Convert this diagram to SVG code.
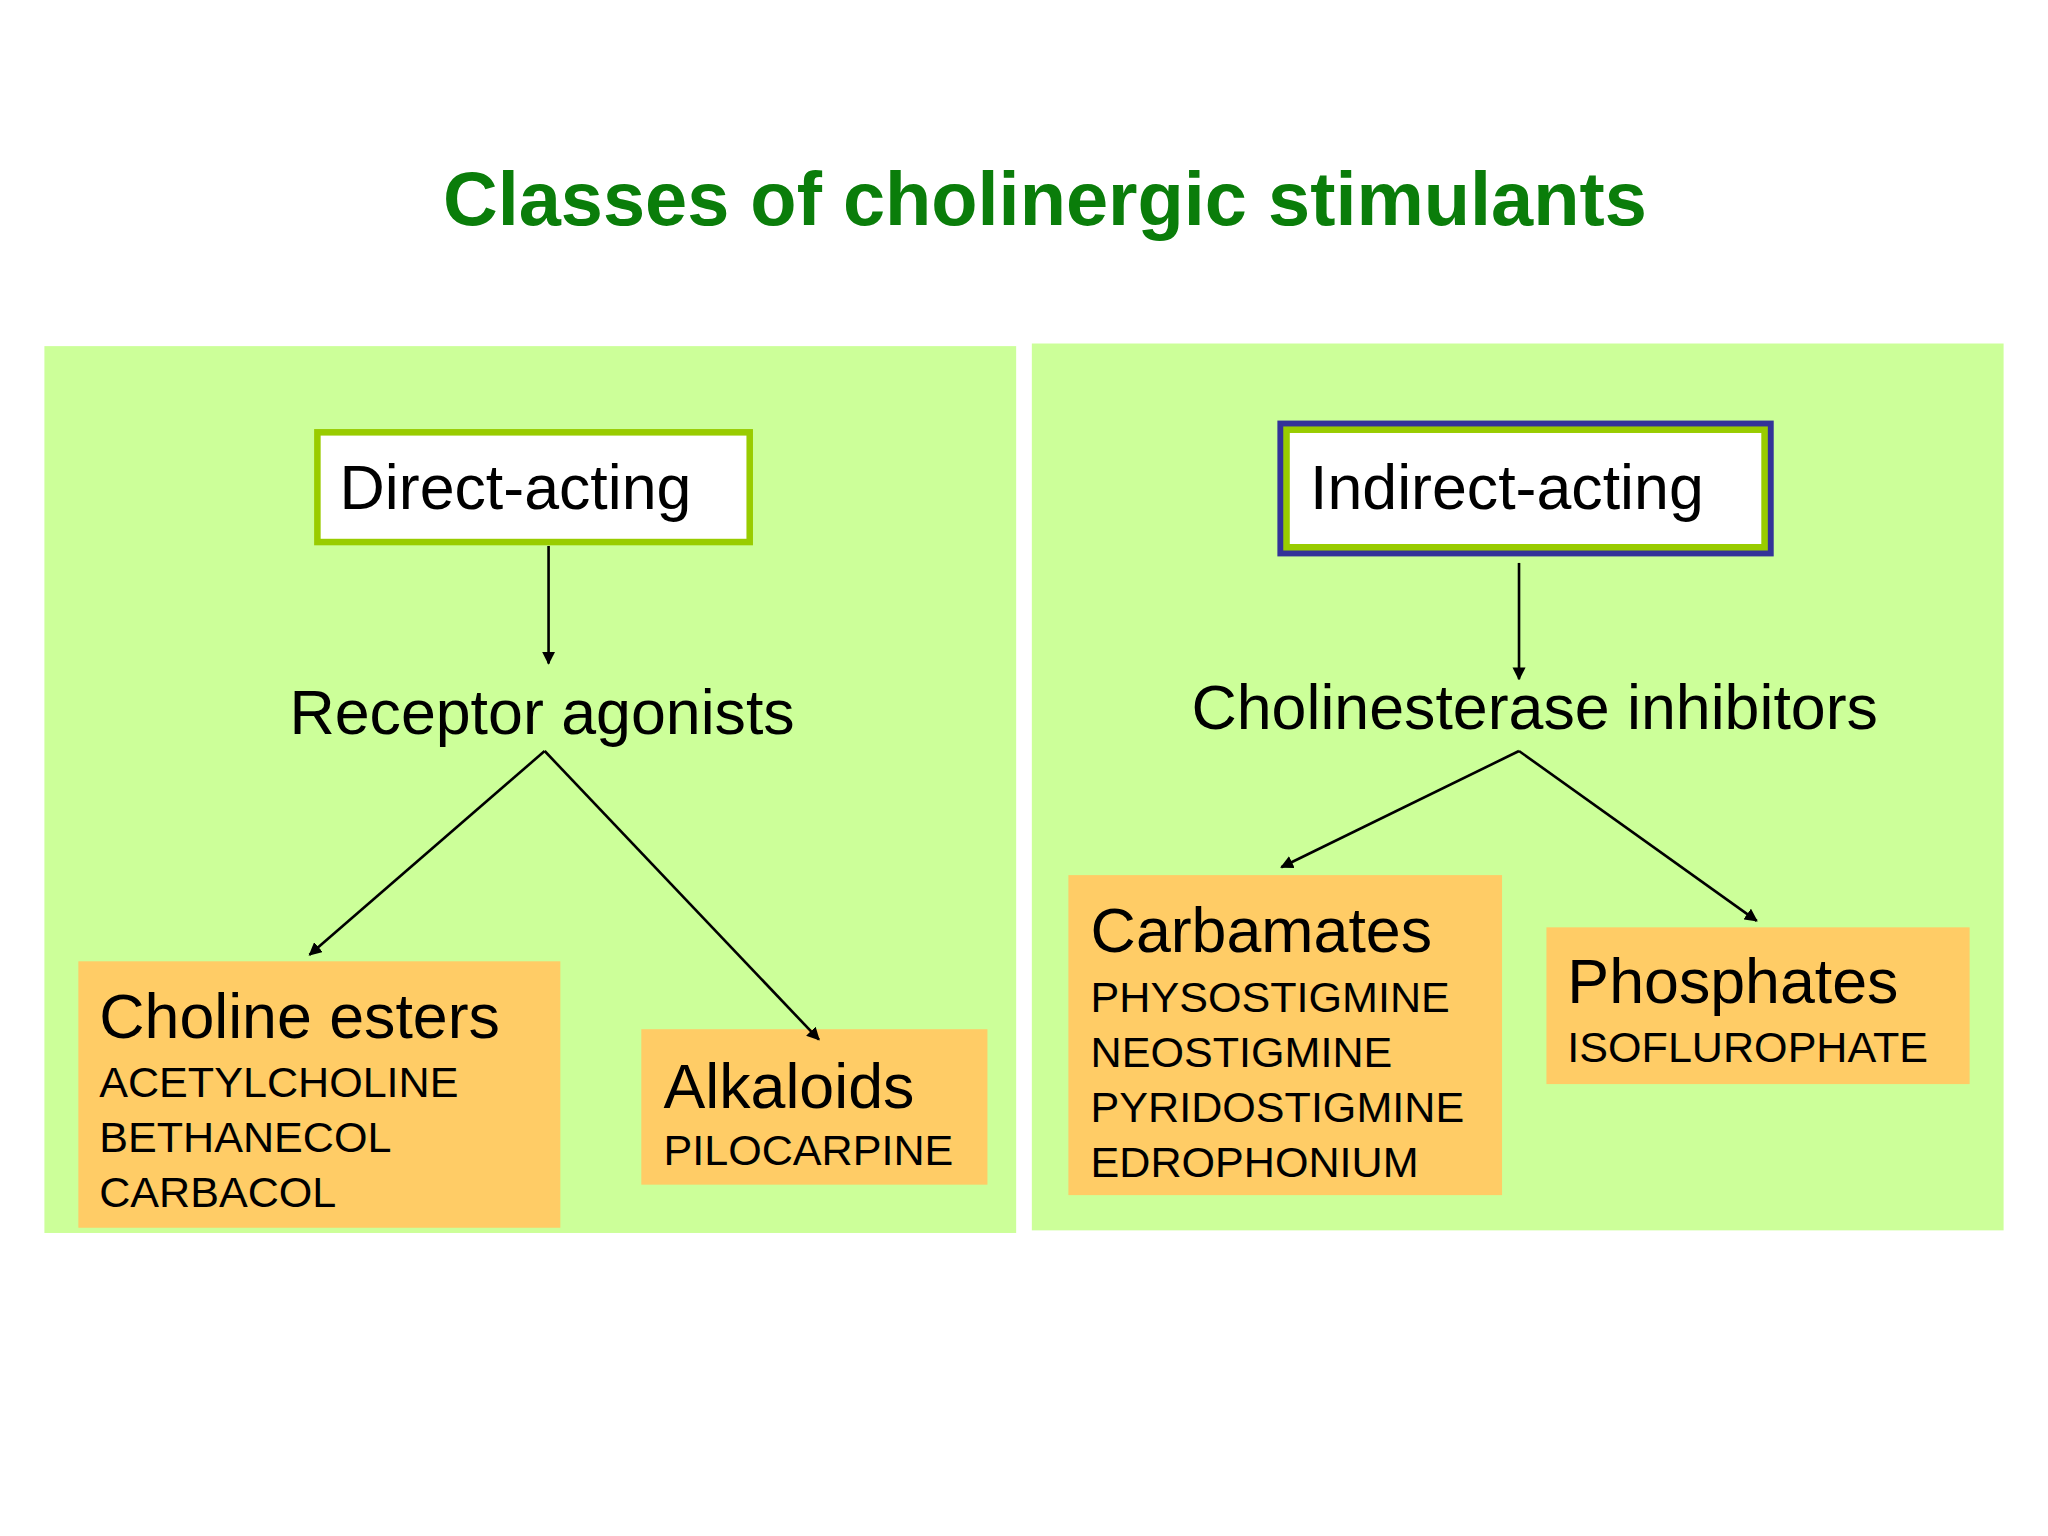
<svg xmlns="http://www.w3.org/2000/svg" width="2048" height="1536" viewBox="0 0 2048 1536">
<defs>
<style>
.t{font-family:"Liberation Sans",Arial,sans-serif;fill:#000}
.h{font-size:48px}
.s{font-size:33px}
.panel{fill:#ccff99}
.box{fill:#ffcc66}
.c{stroke:#000;stroke-width:2;fill:none}
</style>
<marker id="a" markerWidth="10" markerHeight="10" refX="9" refY="5" orient="auto" markerUnits="userSpaceOnUse"><path d="M0,0 L10,5 L0,10 Z" fill="#000"/></marker>
</defs>
<rect width="2048" height="1536" fill="#fff"/>
<g transform="scale(1.30612)">
<text x="800" y="172" text-anchor="middle" font-family="Liberation Sans,Arial,sans-serif" font-weight="bold" font-size="58" fill="#0a7d0a">Classes of cholinergic stimulants</text>
<rect class="panel" x="34" y="265" width="744" height="679"/>
<rect class="panel" x="790" y="263" width="744" height="679"/>
<g id="direct"><rect x="243" y="331" width="331" height="84" fill="#fff" stroke="#99cc00" stroke-width="5"/><text class="t h" x="260" y="390">Direct-acting</text></g>
<g id="receptor"><text class="t h" x="415" y="562" text-anchor="middle">Receptor agonists</text></g>
<g id="choline"><rect class="box" x="60" y="736" width="369" height="204"/><text class="t h" x="76" y="795">Choline esters</text><text class="t s" x="76" y="840">ACETYLCHOLINE</text><text class="t s" x="76" y="882">BETHANECOL</text><text class="t s" x="76" y="924">CARBACOL</text></g>
<g id="alkaloids"><rect class="box" x="491" y="788" width="265" height="119"/><text class="t h" x="508" y="848">Alkaloids</text><text class="t s" x="508" y="892">PILOCARPINE</text></g>
<g id="indirect"><rect x="978" y="322" width="380" height="104" fill="#333399"/><rect x="985" y="329" width="366" height="90" fill="#fff" stroke="#99cc00" stroke-width="5"/><text class="t h" x="1003" y="390">Indirect-acting</text></g>
<g id="chol"><text class="t h" x="1175" y="558" text-anchor="middle">Cholinesterase inhibitors</text></g>
<g id="carbamates"><rect class="box" x="818" y="670" width="332" height="245"/><text class="t h" x="835" y="729">Carbamates</text><text class="t s" x="835" y="775">PHYSOSTIGMINE</text><text class="t s" x="835" y="817">NEOSTIGMINE</text><text class="t s" x="835" y="859">PYRIDOSTIGMINE</text><text class="t s" x="835" y="901">EDROPHONIUM</text></g>
<g id="phosphates"><rect class="box" x="1184" y="710" width="324" height="120"/><text class="t h" x="1200" y="768">Phosphates</text><text class="t s" x="1200" y="813">ISOFLUROPHATE</text></g>
<g id="connectors">
<line class="c" x1="420" y1="418" x2="420" y2="508" marker-end="url(#a)"/>
<line class="c" x1="417" y1="575" x2="237" y2="731" marker-end="url(#a)"/>
<line class="c" x1="417" y1="575" x2="627" y2="796" marker-end="url(#a)"/>
<line class="c" x1="1163" y1="431" x2="1163" y2="520" marker-end="url(#a)"/>
<line class="c" x1="1163" y1="575" x2="981" y2="664" marker-end="url(#a)"/>
<line class="c" x1="1163" y1="575" x2="1345" y2="705" marker-end="url(#a)"/>
</g>
</g>
</svg>
